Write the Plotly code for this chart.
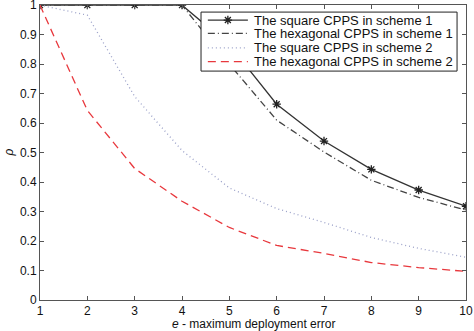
import plotly.graph_objects as go

# maximum deployment error e
e_values = [1, 2, 3, 4, 5, 6, 7, 8, 9, 10]

# coverage ratio rho for each deployment scheme
square_scheme1 = [1.0, 1.0, 1.0, 1.0, 0.865, 0.664, 0.539, 0.443, 0.373, 0.318]
hexagonal_scheme1 = [1.0, 1.0, 1.0, 1.0, 0.80, 0.61, 0.502, 0.406, 0.348, 0.305]
square_scheme2 = [1.0, 0.966, 0.69, 0.507, 0.38, 0.31, 0.263, 0.212, 0.175, 0.145]
hexagonal_scheme2 = [1.0, 0.643, 0.446, 0.335, 0.246, 0.185, 0.158, 0.127, 0.11, 0.097]

series_names = [
    "The square CPPS in scheme 1",
    "The hexagonal CPPS in scheme 1",
    "The square CPPS in scheme 2",
    "The hexagonal CPPS in scheme 2",
]

x_ticks = [1, 2, 3, 4, 5, 6, 7, 8, 9, 10]
y_ticks = [0, 0.1, 0.2, 0.3, 0.4, 0.5, 0.6, 0.7, 0.8, 0.9, 1]
y_tick_labels = ["0", "0.1", "0.2", "0.3", "0.4", "0.5", "0.6", "0.7", "0.8", "0.9", "1"]

FONT = "Liberation Sans, Arial, sans-serif"

styles = [
    dict(color="#333333", width=1.3, dash="solid"),
    dict(color="#444444", width=1.3, dash="7px,3px,1px,3px"),
    dict(color="#9aa0c8", width=1.3, dash="1px,3px"),
    dict(color="#e8383d", width=1.3, dash="8px,5px"),
]
star = dict(symbol="asterisk-open", size=7, color="#222222",
            line=dict(color="#222222", width=1.3))

fig = go.Figure()

series = [square_scheme1, hexagonal_scheme1, square_scheme2, hexagonal_scheme2]
for i, (name, vals) in enumerate(zip(series_names, series)):
    fig.add_trace(go.Scatter(
        x=e_values, y=vals, name=name,
        mode="lines+markers" if i == 0 else "lines",
        line=styles[i],
        marker=star if i == 0 else None,
        showlegend=False,
    ))

axis_common = dict(
    showline=True, mirror="ticks", linecolor="#555555", linewidth=1,
    ticks="inside", ticklen=4, tickcolor="#555555",
    showgrid=False, zeroline=False, automargin=False,
    ticklabeloverflow="allow",
    tickfont=dict(family=FONT, size=12, color="#111111"),
)

fig.update_xaxes(range=[1, 10], tickvals=x_ticks, **axis_common)
fig.update_yaxes(range=[0, 1.0005], tickvals=y_ticks, ticktext=y_tick_labels, **axis_common)

# Legend drawn on an overlay axis spanning the plot area (0..1 in both directions),
# so the box covers the curves that pass behind it
fig.update_layout(
    xaxis2=dict(overlaying="x", range=[0, 1], visible=False, fixedrange=True),
    yaxis2=dict(overlaying="y", range=[0, 1], visible=False, fixedrange=True),
)
leg_x0, leg_x1, leg_y0, leg_y1 = 0.378, 0.979, 0.776, 0.976
fig.add_trace(go.Scatter(
    x=[leg_x0, leg_x1, leg_x1, leg_x0, leg_x0],
    y=[leg_y0, leg_y0, leg_y1, leg_y1, leg_y0],
    xaxis="x2", yaxis="y2", mode="lines", fill="toself", fillcolor="white",
    line=dict(color="#222222", width=1), showlegend=False, hoverinfo="skip",
))
row_y = [0.949, 0.904, 0.855, 0.808]
samp_x0, samp_x1, text_x = 0.394, 0.488, 0.497
for i, name in enumerate(series_names):
    fig.add_trace(go.Scatter(
        x=[samp_x0, samp_x1], y=[row_y[i], row_y[i]],
        xaxis="x2", yaxis="y2", mode="lines", line=styles[i],
        showlegend=False, hoverinfo="skip",
    ))
    fig.add_annotation(
        text=name, xref="x2", yref="y2", x=text_x, y=row_y[i],
        xanchor="left", yanchor="middle", showarrow=False,
        font=dict(family=FONT, size=13, color="#111111"),
    )
fig.add_trace(go.Scatter(
    x=[(samp_x0 + samp_x1) / 2], y=[row_y[0]], xaxis="x2", yaxis="y2",
    mode="markers", marker=star, showlegend=False, hoverinfo="skip",
))

fig.add_annotation(
    text="<i>e</i> - maximum deployment error",
    xref="paper", yref="paper", x=0.5, y=-0.08, yanchor="middle",
    showarrow=False, font=dict(family=FONT, size=12, color="#111111"),
)
fig.add_annotation(
    text="<i>ρ</i>",
    xref="paper", yref="paper", x=-0.073, y=0.5, textangle=-90,
    xanchor="center", yanchor="middle",
    showarrow=False, font=dict(family=FONT, size=12, color="#111111"),
)

fig.update_layout(
    width=474, height=331,
    margin=dict(l=40, r=8, t=5, b=31),
    paper_bgcolor="white", plot_bgcolor="white",
    showlegend=False,
)

fig.write_html("out.html")
